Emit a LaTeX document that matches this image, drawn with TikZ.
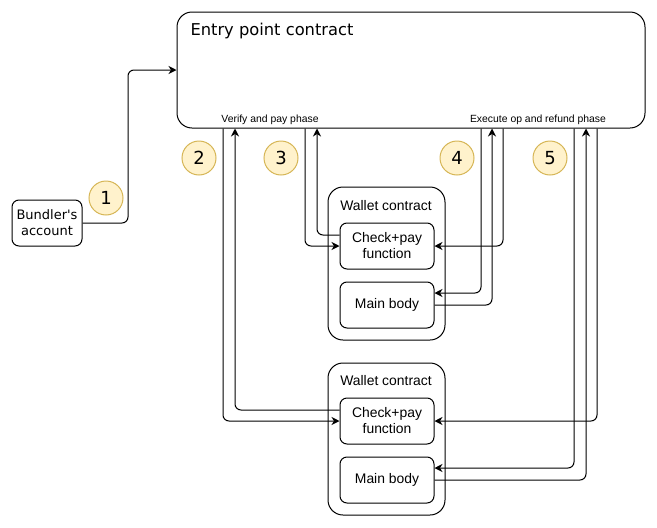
\documentclass[tikz,border=0pt]{standalone}
\usepackage{fontspec}
\setmainfont{Liberation Sans}
\newfontfamily\dv{DejaVu Sans}
\usetikzlibrary{arrows.meta}
\definecolor{nrfill}{HTML}{FFF2CC}
\definecolor{nrdraw}{HTML}{D6B656}

\begin{document}
\begin{tikzpicture}[x=1pt,y=-1pt,line width=1pt,
   bx/.style={draw,rounded corners=7pt,minimum width=94pt,minimum height=46pt,
      align=center,inner sep=0pt,font=\fontsize{13.9}{16}\selectfont},
   wc/.style={draw,rounded corners=15pt,minimum width=117pt,minimum height=153pt},
   nr/.style={circle,draw=nrdraw,fill=nrfill,minimum size=34pt,inner sep=0pt,
      font=\dv\fontsize{18}{18}\selectfont},
   ph/.style={inner sep=0pt,font=\fontsize{10.4}{12}\selectfont},
   ar/.style={-{Stealth[length=8pt,width=8pt,inset=2.5pt]},rounded corners=6pt}]
   \useasboundingbox (0,0) rectangle (657,528);
   % boxes
   \node[draw,rounded corners=15pt,minimum width=468pt,minimum height=116pt] (ep) at (411,70) {};
   \node[anchor=west,inner sep=0pt,font=\dv\fontsize{16.3}{19}\selectfont] (ept) at (190,31) {Entry point contract};
   \node[ph] (vp) at (270,120) {Verify and pay phase};
   \node[ph] (er) at (538,120) {Execute op and refund phase};
   \node[draw,rounded corners=7pt,minimum width=70pt,minimum height=46pt,align=center,
      inner sep=0pt,font=\dv\fontsize{13}{16}\selectfont] (ba) at (47,223) {Bundler's\\account};
   \node[wc] (wc1) at (386.5,263.5) {};
   \node[wc,minimum height=152pt] (wc2) at (386.5,439) {};
   \node[inner sep=0pt,font=\fontsize{13.9}{16}\selectfont] (wt1) at (386,206) {Wallet contract};
   \node[inner sep=0pt,font=\fontsize{13.9}{16}\selectfont] (wt2) at (386,381) {Wallet contract};
   \node[bx] (cp1) at (387,246) {Check+pay\\function};
   \node[bx] (mb1) at (387,305) {Main body};
   \node[bx] (cp2) at (387,421) {Check+pay\\function};
   \node[bx] (mb2) at (387,480) {Main body};
   % steps
   \node[nr] (n1) at (106,198) {1};
   \node[nr] (n2) at (199,158) {2};
   \node[nr] (n3) at (281,158) {3};
   \node[nr] (n4) at (457,158) {4};
   \node[nr] (n5) at (550,158) {5};
   % legs
   \coordinate (k1) at (128,0);
   \coordinate (x2a) at (223,0);  \coordinate (x2b) at (235,0);
   \coordinate (x3a) at (305,0);  \coordinate (x3b) at (317,0);
   \coordinate (x4a) at (481,0);  \coordinate (x4b) at (492,0);  \coordinate (x4c) at (503,0);
   \coordinate (x5a) at (574,0);  \coordinate (x5b) at (586,0);  \coordinate (x5c) at (597,0);
   % connectors
   \draw[ar] (ba.east) -| (k1 |- ep.west) -- (ep.west);
   \draw[ar] (ep.south -| x2a) |- (cp2.west);
   \draw[ar] ([yshift=11pt]cp2.west) -| (ep.south -| x2b);
   \draw[ar] (ep.south -| x3a) |- (cp1.west);
   \draw[ar] ([yshift=11pt]cp1.west) -| (ep.south -| x3b);
   \draw[ar] (ep.south -| x4c) |- (cp1.east);
   \draw[ar] (ep.south -| x4a) |- ([yshift=12pt]mb1.east);
   \draw[ar] (mb1.east) -| (ep.south -| x4b);
   \draw[ar] (ep.south -| x5c) |- (cp2.east);
   \draw[ar] (ep.south -| x5a) |- ([yshift=12pt]mb2.east);
   \draw[ar] (mb2.east) -| (ep.south -| x5b);
\end{tikzpicture}
\end{document}
